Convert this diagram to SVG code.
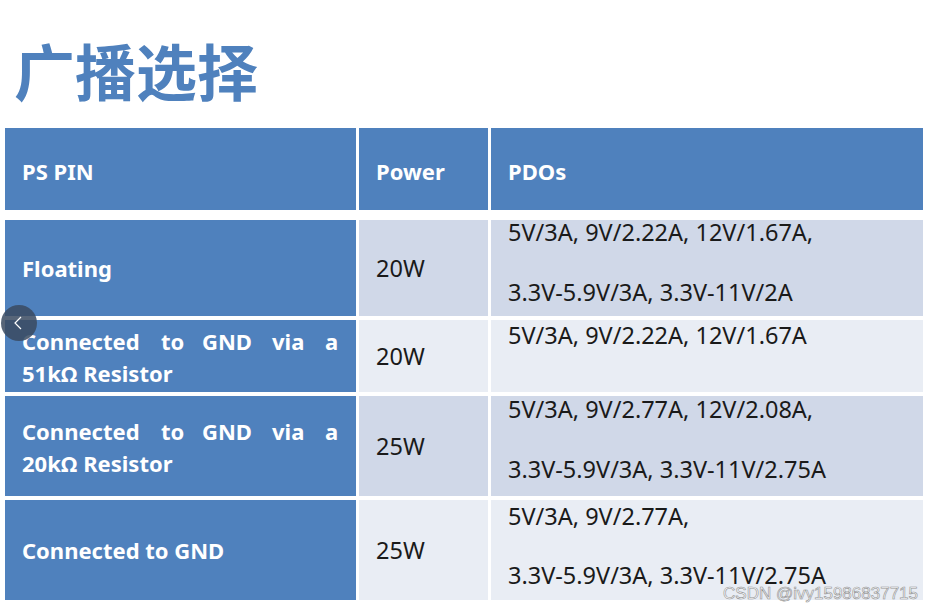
<svg xmlns="http://www.w3.org/2000/svg" width="934" height="613" viewBox="0 0 934 613">
<style>
.h{fill:#4F81BD}
.a{fill:#D0D8E8}
.b{fill:#E9EDF4}
.w{fill:#fff;font-family:"Noto Sans","Liberation Sans",sans-serif;font-weight:bold;font-size:22px}
.t{fill:#1a1a1a;font-family:"Noto Sans","Liberation Sans",sans-serif;font-size:23.5px}
</style>
<rect width="934" height="613" fill="#fff"/>
<text x="14" y="96" font-family="Noto Sans CJK SC,sans-serif" font-weight="bold" font-size="61" fill="#4F81BD">广播选择</text>
<g id="header">
<rect class="h" x="5" y="128" width="351" height="82"/>
<rect class="h" x="359" y="128" width="129" height="82"/>
<rect class="h" x="491" y="128" width="432" height="82"/>
<text class="w" x="22" y="180">PS PIN</text>
<text class="w" x="376" y="180">Power</text>
<text class="w" x="508" y="180">PDOs</text>
</g>
<g id="row1">
<rect class="h" x="5" y="220" width="351" height="96"/>
<rect class="a" x="359" y="220" width="129" height="96"/>
<rect class="a" x="491" y="220" width="432" height="96"/>
<text class="w" x="22" y="277">Floating</text>
<text class="t" x="376" y="277">20W</text>
<text class="t" x="508" y="241">5V/3A, 9V/2.22A, 12V/1.67A,</text>
<text class="t" x="508" y="301">3.3V-5.9V/3A, 3.3V-11V/2A</text>
</g>
<g id="row2">
<rect class="h" x="5" y="320" width="351" height="72"/>
<rect class="b" x="359" y="320" width="129" height="72"/>
<rect class="b" x="491" y="320" width="432" height="72"/>
<text class="w" y="350"><tspan x="22">Connected</tspan><tspan x="161">to</tspan><tspan x="202">GND</tspan><tspan x="272">via</tspan><tspan x="325">a</tspan></text>
<text class="w" x="22" y="382">51kΩ Resistor</text>
<text class="t" x="376" y="365">20W</text>
<text class="t" x="508" y="344">5V/3A, 9V/2.22A, 12V/1.67A</text>
</g>
<g id="row3">
<rect class="h" x="5" y="396" width="351" height="100"/>
<rect class="a" x="359" y="396" width="129" height="100"/>
<rect class="a" x="491" y="396" width="432" height="100"/>
<text class="w" y="440"><tspan x="22">Connected</tspan><tspan x="161">to</tspan><tspan x="202">GND</tspan><tspan x="272">via</tspan><tspan x="325">a</tspan></text>
<text class="w" x="22" y="472">20kΩ Resistor</text>
<text class="t" x="376" y="455">25W</text>
<text class="t" x="508" y="418">5V/3A, 9V/2.77A, 12V/2.08A,</text>
<text class="t" x="508" y="478">3.3V-5.9V/3A, 3.3V-11V/2.75A</text>
</g>
<g id="row4">
<rect class="h" x="5" y="500" width="351" height="100"/>
<rect class="b" x="359" y="500" width="129" height="100"/>
<rect class="b" x="491" y="500" width="432" height="100"/>
<text class="w" x="22" y="559">Connected to GND</text>
<text class="t" x="376" y="559">25W</text>
<text class="t" x="508" y="525">5V/3A, 9V/2.77A,</text>
<text class="t" x="508" y="584">3.3V-5.9V/3A, 3.3V-11V/2.75A</text>
</g>
<g id="nav">
<circle cx="19" cy="323" r="18" fill="#3a4a60" opacity="0.85"/>
<path d="M21 317 L15 323 L21 329" fill="none" stroke="#fff" stroke-width="1.2"/>
</g>
<text x="918" y="599" text-anchor="end" font-family="Liberation Sans,sans-serif" font-size="17" fill="#fff" stroke="#888" stroke-width="0.6" opacity="0.9">CSDN @ivy15986837715</text>
</svg>
